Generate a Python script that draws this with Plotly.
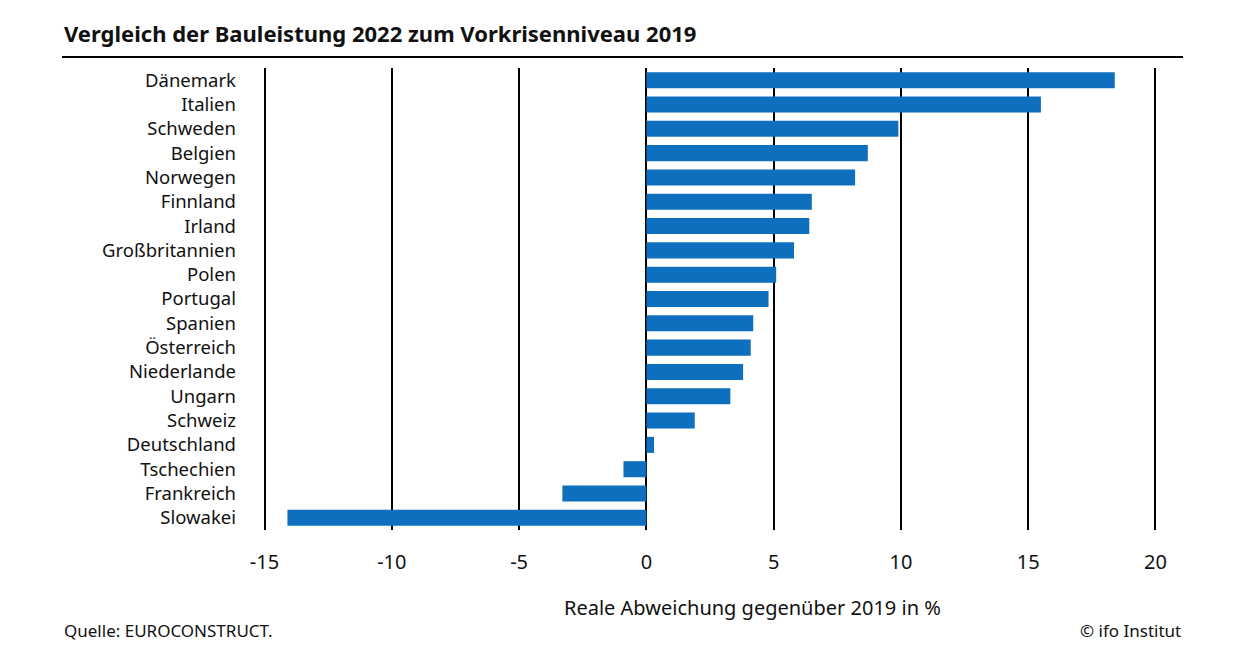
import plotly.graph_objects as go

countries = ["Dänemark", "Italien", "Schweden", "Belgien", "Norwegen", "Finnland", "Irland",
             "Großbritannien", "Polen", "Portugal", "Spanien", "Österreich", "Niederlande",
             "Ungarn", "Schweiz", "Deutschland", "Tschechien", "Frankreich", "Slowakei"]
values = [18.4, 15.5, 9.9, 8.7, 8.2, 6.5, 6.4, 5.8, 5.1, 4.8, 4.2, 4.1, 3.8, 3.3, 1.9,
          0.3, -0.9, -3.3, -14.1]
x_ticks = [-15, -10, -5, 0, 5, 10, 15, 20]
x_labels = ["-15", "-10", "-5", "0", "5", "10", "15", "20"]

L, R, T, B, W, H = 263, 89, 68, 122, 1246, 652
PW, PH = W - L - R, H - T - B


def px(x):
    return (x - L) / PW


def py(y):
    return (H - B - y) / PH


fig = go.Figure(go.Bar(x=values, y=countries, orientation="h",
                       marker=dict(color="#0f6fbf", line_width=0), width=0.66))

fig.update_layout(
    width=W, height=H, paper_bgcolor="white", plot_bgcolor="white",
    margin=dict(l=L, r=R, t=T, b=B, autoexpand=False),
    font=dict(family="Noto Sans", size=20, color="#111"),
    showlegend=False,
    xaxis=dict(range=[-15.06, 20.06], tickvals=x_ticks, ticktext=x_labels, showgrid=True,
               gridcolor="black", gridwidth=1.5, zeroline=False, showline=False, ticks="",
               ticklabelstandoff=18),
    yaxis=dict(autorange="reversed", showgrid=False, ticks="", ticklabelstandoff=26,
               tickmode="array", tickvals=countries, ticktext=countries,
               tickfont=dict(size=18.5)),
    shapes=[dict(type="line", xref="paper", yref="paper", x0=px(62), x1=px(1183),
                 y0=py(57), y1=py(57), line=dict(color="black", width=2))],
    annotations=[
        dict(text="<b>Vergleich der Bauleistung 2022 zum Vorkrisenniveau 2019</b>",
             x=px(62), y=py(33), font=dict(size=22), xanchor="left"),
        dict(text="Reale Abweichung gegenüber 2019 in %", x=px(752), y=py(607),
             xanchor="center"),
        dict(text="Quelle: EUROCONSTRUCT.", x=px(62), y=py(630), font=dict(size=17),
             xanchor="left"),
        dict(text="© ifo Institut", x=px(1183), y=py(630), font=dict(size=17),
             xanchor="right"),
    ],
)
fig.update_annotations(xref="paper", yref="paper", showarrow=False, yanchor="middle")

fig.write_html("out.html", post_script="document.body.style.margin='0';",
               config={"displayModeBar": False})
